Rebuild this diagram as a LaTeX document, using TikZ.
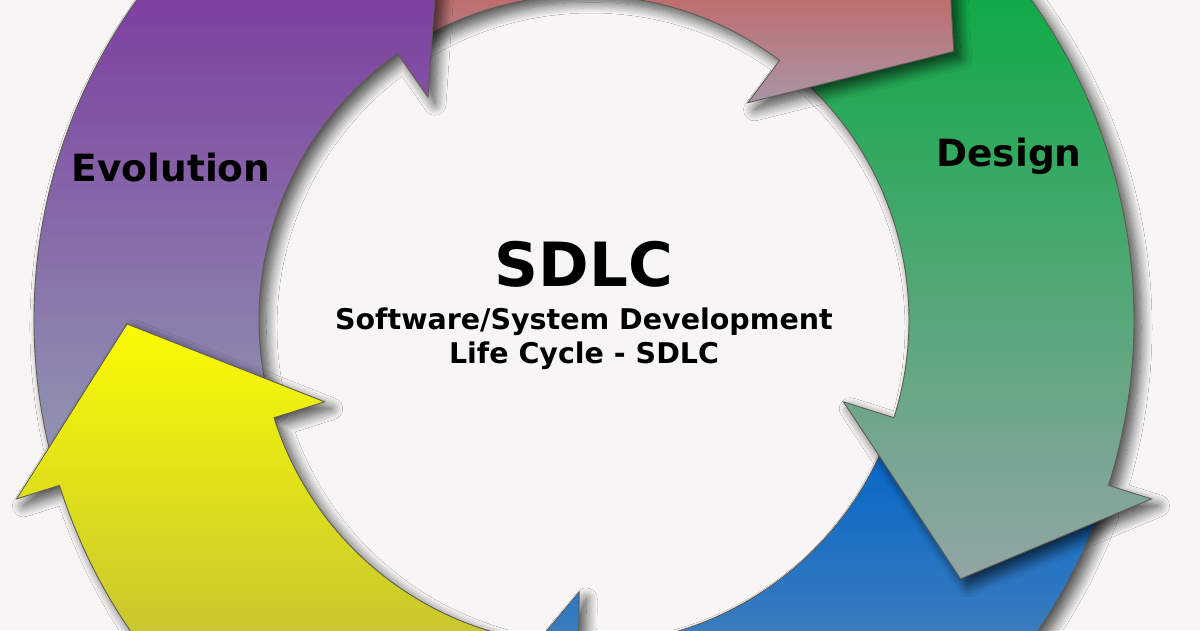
\documentclass[tikz,border=0pt]{standalone}
\usepackage{fontspec}
\setmainfont{DejaVu Sans}
\usetikzlibrary{positioning,shadows.blur}

\definecolor{paper}{RGB}{247,246,245}
\definecolor{rimgray}{RGB}{95,90,82}
\definecolor{pinktop}{RGB}{192,106,106}
\definecolor{pinkbot}{RGB}{165,158,178}
\definecolor{purpletop}{RGB}{125,62,160}
\definecolor{purplebot}{RGB}{145,152,178}
\definecolor{yellowtop}{RGB}{255,255,0}
\definecolor{yellowbot}{RGB}{198,198,48}
\definecolor{bluetop}{RGB}{0,100,200}
\definecolor{bluebot}{RGB}{60,125,190}
\definecolor{greentop}{RGB}{15,170,70}
\definecolor{greenbot}{RGB}{150,165,168}

\tikzset{
  rim/.style={draw=rimgray, line width=0.9pt, line join=miter},
  soft shadow/.style={blur shadow={shadow xshift=7pt, shadow yshift=-7pt,
      shadow blur radius=11pt, shadow blur steps=14, shadow opacity=70}},
  phase label/.style={font=\fontsize{37.5}{45}\selectfont\bfseries, inner sep=0pt},
  title/.style={font=\fontsize{61}{70}\selectfont\bfseries, inner sep=0pt},
  subtitle/.style={font=\fontsize{28.5}{34}\selectfont\bfseries, align=center, inner sep=0pt}
}

% one curved arrow of the ring: #1 tail angle, #2 angle of the head base
\newcommand\cyclearrow[2]{(#1:550) arc[start angle=#1, end angle=#2, radius=550]
  -- (#2:595) -- ({#2-17}:457) -- (#2:272) -- (#2:325)
  arc[start angle=#2, end angle=#1, radius=325] -- cycle}

\newcommand\phaseshadow[2]{\path[soft shadow] \cyclearrow{#1}{#2};}
% vertical shading between y #5 and #6, then the outline
\newcommand\phasebody[6]{%
  \begin{scope}
    \clip \cyclearrow{#1}{#2};
    \shade[top color=#3, bottom color=#4] (-600,#5) rectangle (640,#6);
  \end{scope}
  \draw[rim] \cyclearrow{#1}{#2};
}
\newcommand\phase[6]{\phaseshadow{#1}{#2}\phasebody{#1}{#2}{#3}{#4}{#5}{#6}}

\begin{document}
\begin{tikzpicture}[x=1pt, y=1pt]
  \useasboundingbox (0,0) rectangle (1200,630);
  \fill[paper] (0,0) rectangle (1200,630);
  \clip (0,0) rectangle (1200,630);

  \begin{scope}[shift={(584,310)}]
    % green tail first, so that the pink head can lie over it
    \begin{scope}
      \clip (0,0) -- (62:800) arc[start angle=62, end angle=20, radius=800] -- cycle;
      \phase{50.5}{-17.5}{greentop}{greenbot}{330}{-275}
    \end{scope}
    % each head lies over the tail of the next arrow
    \phase{122.5}{53}{pinktop}{pinkbot}{330}{195}
    \phase{195}{125}{purpletop}{purplebot}{330}{-150}
    \phase{266.5}{197.5}{yellowtop}{yellowbot}{20}{-320}
    \phase{340}{269}{bluetop}{bluebot}{-110}{-320}
    % rest of the green arrow, over the blue tail
    \begin{scope}
      \clip (0,0) -- (20:800) arc[start angle=20, end angle=-85, radius=800] -- cycle;
      \phaseshadow{50.5}{-17.5}
    \end{scope}
    \begin{scope}
      \clip (0,0) -- (23:800) arc[start angle=23, end angle=-85, radius=800] -- cycle;
      \phasebody{50.5}{-17.5}{greentop}{greenbot}{330}{-275}
    \end{scope}
  \end{scope}

  \node[title, anchor=base] (sdlc) at (584,343) {SDLC};
  \node[subtitle, below=21pt of sdlc.base] (fullname)
    {Software/System Development\\Life Cycle - SDLC};
  \node[phase label, anchor=base] (evolution) at (171,448) {Evolution};
  \node[phase label, anchor=base] (design) at (1009,463) {Design};
\end{tikzpicture}
\end{document}
